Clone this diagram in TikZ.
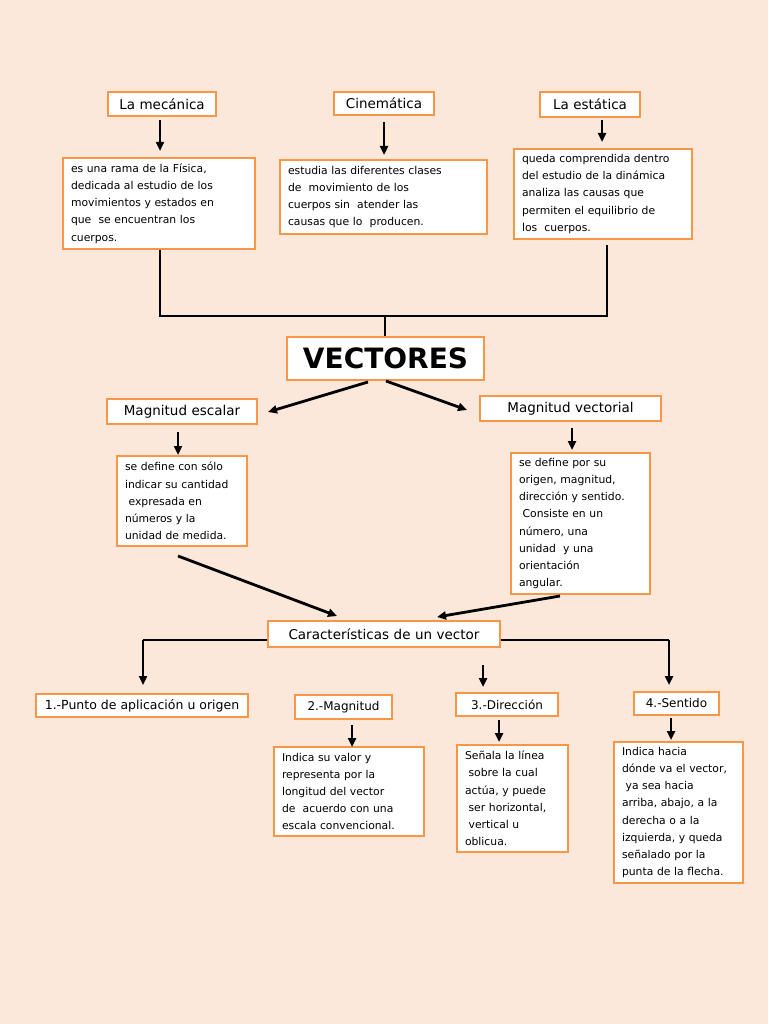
\documentclass[tikz,border=0pt]{standalone}
\usepackage{fontspec}
\setmainfont{DejaVu Sans}
\usetikzlibrary{arrows.meta}
\definecolor{bg}{HTML}{FCE8DA}
\definecolor{org}{HTML}{F79646}
\tikzset{
 bx/.style={draw=org,line width=2pt,fill=white,inner sep=0pt,anchor=north west},
 lab/.style={bx,font=\fontsize{13.5}{15}\selectfont,align=center},
 txt/.style={bx,font=\fontsize{10.8}{17.2}\selectfont,align=left,inner xsep=8pt,inner ysep=3pt},
 arr/.style={-{Triangle[length=9pt,width=8pt]},line width=2.8pt},
 ln/.style={line width=2.8pt}
}
\newcommand{\bxn}[7]{\node[#1,minimum width=#4pt,minimum height=#5pt,text width=#6pt] (#2) at #3 {#7};}
\begin{document}
\begin{tikzpicture}[x=1pt,y=-1pt]
\fill[bg] (0,0) rectangle (768,1024);
\useasboundingbox (0,0) rectangle (768,1024);
\bxn{lab}{mec}{(107,91)}{108}{24}{108}{La mecánica}
\bxn{lab}{cin}{(333,91)}{100}{23}{100}{Cinemática}
\bxn{lab}{est}{(539,91)}{100}{25}{100}{La estática}
\bxn{txt}{b1}{(62,157)}{192}{91}{176}{es una rama de la Física,\\dedicada al estudio de los\\movimientos y estados en\\que\ \ se encuentran los\\cuerpos.}
\bxn{txt}{b2}{(279,159)}{207}{74}{191}{estudia las diferentes clases\\de\ \ movimiento de los\\cuerpos sin\ \ atender las\\causas que lo\ \ producen.}
\bxn{txt}{b3}{(513,148)}{178}{90}{162}{queda comprendida dentro\\del estudio de la dinámica\\analiza las causas que\\permiten el equilibrio de\\los\ \ cuerpos.}
\node[bx,minimum width=197pt,minimum height=43pt,font=\fontsize{28}{30}\selectfont\bfseries] (vec) at (286,336) {VECTORES};
\bxn{lab}{esc}{(106,398)}{150}{25}{150}{Magnitud escalar}
\bxn{lab}{mv}{(479,395)}{181}{25}{181}{Magnitud vectorial}
\bxn{txt}{be}{(116,455)}{130}{90}{114}{se define con sólo\\indicar su cantidad\\\ expresada en\\números y la\\unidad de medida.}
\bxn{txt}{bv}{(510,452)}{139}{141}{123}{se define por su\\origen, magnitud,\\dirección y sentido.\\\ Consiste en un\\número, una\\unidad\ \ y una\\orientación\\angular.}
\bxn{lab}{car}{(267,620)}{232}{26}{232}{Características de un vector}
\node[bx,minimum width=212pt,minimum height=23pt,font=\fontsize{12.5}{14}\selectfont] (p1) at (35,693) {1.-Punto de aplicación u origen};
\node[bx,minimum width=97pt,minimum height=24pt,font=\fontsize{12}{14}\selectfont] (p2) at (294,694) {2.-Magnitud};
\node[bx,minimum width=102pt,minimum height=23pt,font=\fontsize{12}{14}\selectfont] (p3) at (455,692) {3.-Dirección};
\node[bx,minimum width=85pt,minimum height=23pt,font=\fontsize{12}{14}\selectfont] (p4) at (633,691) {4.-Sentido};
\bxn{txt}{bm}{(273,746)}{150}{89}{134}{Indica su valor y\\representa por la\\longitud del vector\\de\ \ acuerdo con una\\escala convencional.}
\bxn{txt}{bd}{(456,744)}{111}{107}{95}{Señala la línea\\\ sobre la cual\\actúa, y puede\\\ ser horizontal,\\\ vertical u\\oblicua.}
\bxn{txt}{bs}{(613,741)}{129}{141}{113}{Indica hacia\\dónde va el vector,\\\ ya sea hacia\\arriba, abajo, a la\\derecha o a la\\izquierda, y queda\\señalado por la\\punta de la flecha.}
% arrows
\draw[arr] (160,120) -- (160,151);
\draw[arr] (384,122) -- (384,155);
\draw[arr] (602,120) -- (602,142);
\coordinate (j1) at (160,316); \coordinate (j2) at (607,316); \coordinate (j3) at (385,316);
\draw[ln] (160,250) -- (j1) -- (j2) -- (607,245);
\draw[ln] (j3) -- (vec.north -| j3);
\draw[arr] (368,382) -- (268,412);
\draw[arr] (386,381) -- (467,410);
\draw[arr] (178,432) -- (178,455);
\draw[arr] (572,428) -- (572,450);
\draw[arr] (178,556) -- (337,616);
\draw[arr] (560,596) -- (437,617);
\coordinate (cl) at (143,640); \coordinate (cr) at (669,640);
\draw[ln] (car.west |- cl) -- (cl);
\draw[ln] (car.east |- cr) -- (cr);
\draw[arr] (cl) -- (143,685);
\draw[arr] (cr) -- (669,685);
\draw[arr] (483,665) -- (483,687);
\draw[arr] (352,725) -- (352,747);
\draw[arr] (499,720) -- (499,742);
\draw[arr] (671,718) -- (671,740);
\end{tikzpicture}
\end{document}
